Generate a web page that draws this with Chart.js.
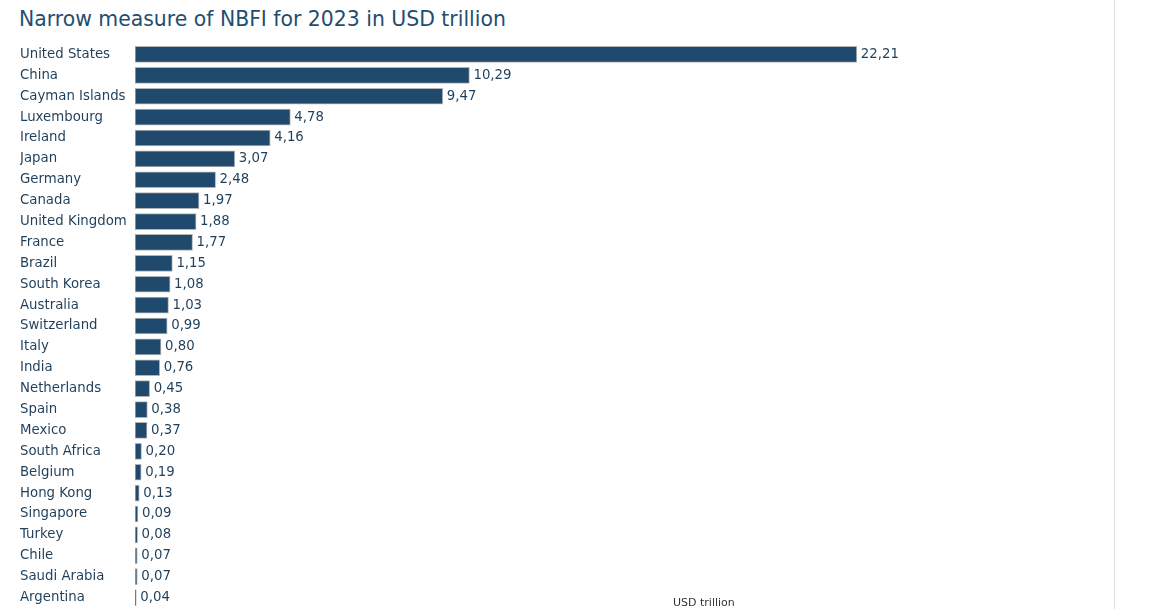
<!DOCTYPE html>
<html>
<head>
<meta charset="utf-8">
<script src="https://cdn.jsdelivr.net/npm/chart.js@4"></script>
<style>
  body { margin: 0; background: #fff; font-family: "DejaVu Sans", Verdana, sans-serif; overflow: hidden; }
  #wrap { position: relative; width: 1156px; height: 609px; overflow: hidden; }
  #title { position: absolute; left: 19px; top: 7px; font-size: 20.4px; color: #1f4e70; }
  #unit { position: absolute; left: 673px; top: 596px; font-size: 11px; color: #333; }
  #edge { position: absolute; left: 1114px; top: 0; width: 1px; height: 609px; background: #ddd; }
  #box { position: absolute; left: 0; top: 30px; width: 1110px; height: 592px; }
</style>
</head>
<body>
<div id="wrap">
  <div id="title">Narrow measure of NBFI for 2023 in USD trillion</div>
  <div id="box"><canvas id="nbfiGraph"></canvas></div>
  <div id="unit">USD trillion</div>
  <div id="edge"></div>
</div>
<script>
// data
const countries = ["United States", "China", "Cayman Islands", "Luxembourg", "Ireland", "Japan",
    "Germany", "Canada", "United Kingdom", "France", "Brazil", "South Korea", "Australia",
    "Switzerland", "Italy", "India", "Netherlands", "Spain", "Mexico", "South Africa", "Belgium",
    "Hong Kong", "Singapore", "Turkey", "Chile", "Saudi Arabia", "Argentina"];
const values = [22.21, 10.29, 9.47, 4.78, 4.16, 3.07, 2.48, 1.97, 1.88, 1.77, 1.15, 1.08, 1.03,
    0.99, 0.80, 0.76, 0.45, 0.38, 0.37, 0.20, 0.19, 0.13, 0.09, 0.08, 0.07, 0.07, 0.04];

// draw value labels right of each bar, comma decimal
const valueLabels = {
    id: "valueLabels",
    afterDatasetsDraw(chart) {
        const ctx = chart.ctx;
        const meta = chart.getDatasetMeta(0);
        ctx.save();
        ctx.font = "13.3px 'DejaVu Sans', Verdana, sans-serif";
        ctx.fillStyle = "#1f3f5a";
        ctx.textBaseline = "middle";
        meta.data.forEach((bar, i) => {
            ctx.fillText(values[i].toFixed(2).replace(".", ","), bar.x + 4, bar.y);
        });
        ctx.restore();
    }
};

new Chart("nbfiGraph", {
    type: "bar",
    data: {
        labels: countries,
        datasets: [{
            data: values,
            backgroundColor: "#1f4a6e",
            borderColor: "#b4b4b4",
            borderWidth: 1,
            borderSkipped: false,
            barThickness: 16
        }]
    },
    options: {
        indexAxis: "y",
        responsive: true,
        maintainAspectRatio: false,
        animation: false,
        layout: { padding: { left: 20, right: 0, top: 0, bottom: 0 } },
        plugins: { legend: { display: false }, tooltip: { enabled: false } },
        scales: {
            x: { min: 0, max: 30, display: false },
            y: {
                grid: { display: false },
                border: { display: false },
                ticks: {
                    crossAlign: "far",
                    padding: 6,
                    color: "#1f3f5a",
                    font: { size: 13.3, family: "'DejaVu Sans', Verdana, sans-serif" }
                },
                afterFit(scale) { scale.width = 115; }
            }
        }
    },
    plugins: [valueLabels]
});
</script>
</body>
</html>
